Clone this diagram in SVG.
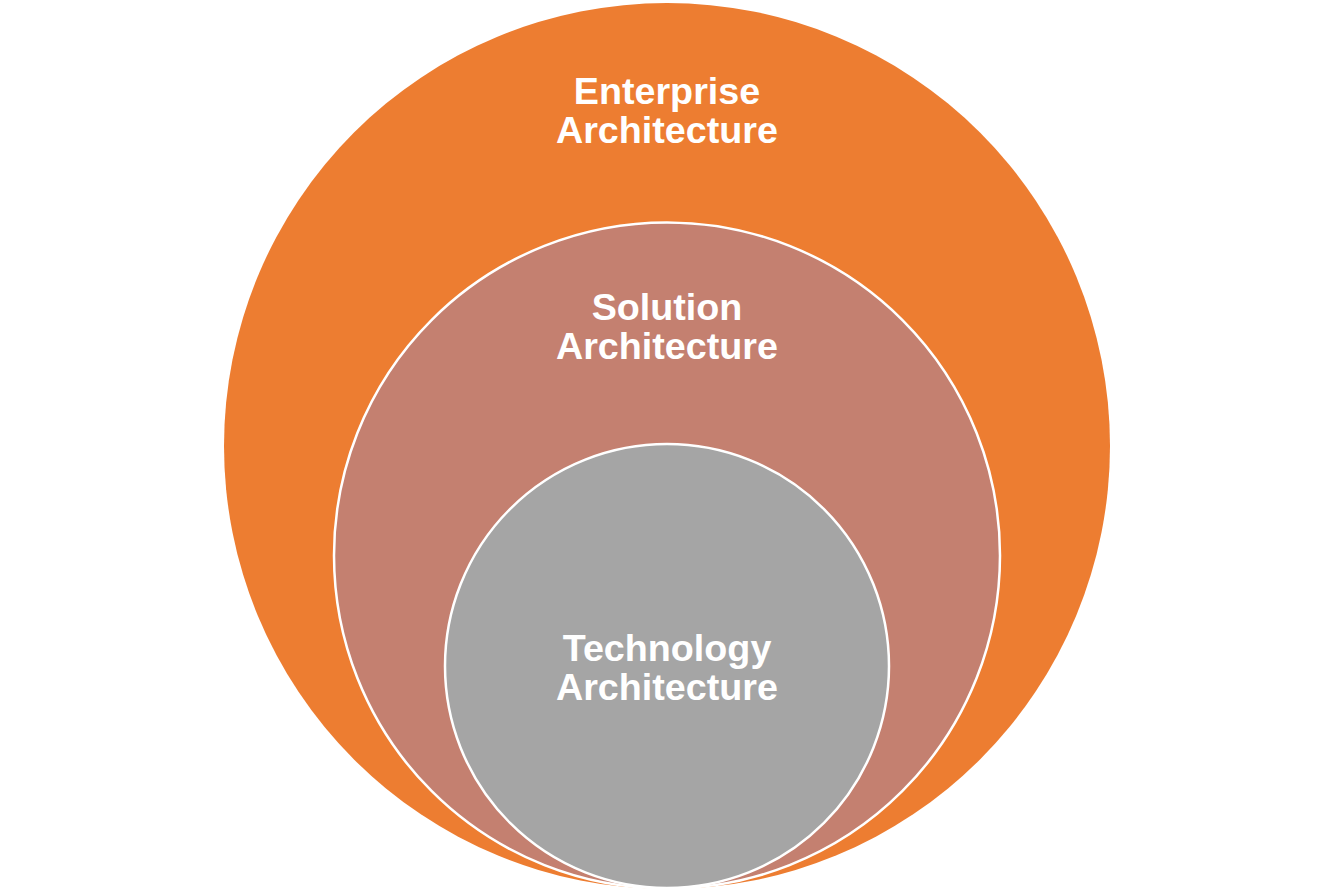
<svg xmlns="http://www.w3.org/2000/svg" width="1334" height="891" viewBox="0 0 1334 891">
<style>
.lbl{font-family:"Liberation Sans",Arial,sans-serif;font-weight:bold;font-size:37.7px;fill:#fff;text-anchor:middle}
.c{stroke:#fff;stroke-width:2.5}
</style>
<rect width="1334" height="891" fill="#fff"/>
<g id="enterprise">
<circle cx="667" cy="446" r="443" fill="#ED7D31"/>
<text class="lbl" x="667" y="104">Enterprise</text>
<text class="lbl" x="667" y="143">Architecture</text>
</g>
<g id="solution">
<circle class="c" cx="667" cy="555.5" r="333" fill="#C48070"/>
<text class="lbl" x="667" y="320">Solution</text>
<text class="lbl" x="667" y="359">Architecture</text>
</g>
<g id="technology">
<circle class="c" cx="667" cy="666" r="222" fill="#A5A5A5"/>
<text class="lbl" x="667" y="661">Technology</text>
<text class="lbl" x="667" y="700">Architecture</text>
</g>
<g id="connectors"/>
</svg>
